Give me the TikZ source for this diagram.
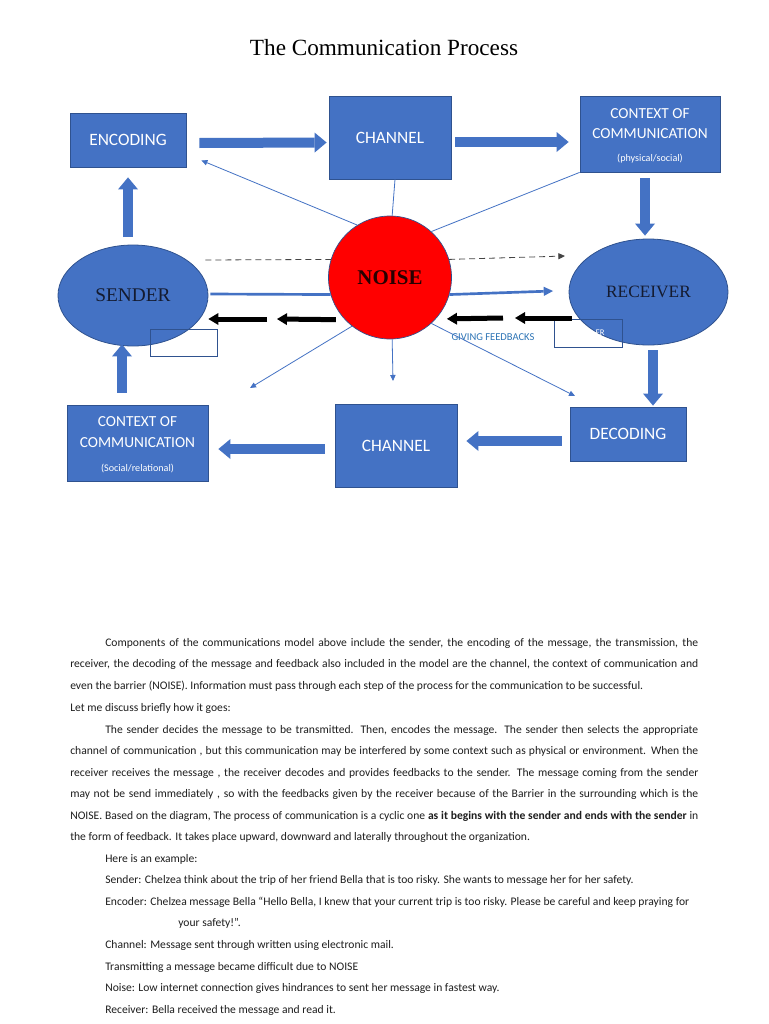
\documentclass[tikz,border=0pt]{standalone}
\usepackage{fontspec}
\setmainfont{Liberation Serif}
\newfontfamily\carl{Carlito}
\usetikzlibrary{arrows.meta,calc,shapes.geometric}
\definecolor{ofblue}{HTML}{4472C4}
\definecolor{ofedge}{HTML}{2F528F}
\definecolor{txt}{HTML}{1E1E1E}
\definecolor{fbblue}{HTML}{2E75B6}
\definecolor{navy}{HTML}{141B30}
\definecolor{dashc}{HTML}{444444}
\begin{document}
\begin{tikzpicture}[x=0.75pt,y=-0.75pt,
  box/.style={draw=ofedge,line width=0.6pt,fill=ofblue,text=white,inner sep=0pt,
    font=\carl\fontsize{13}{15}\selectfont,align=center},
  cxt/.style={text=white,inner sep=0pt,font=\carl\fontsize{11.5}{13}\selectfont},
  cxs/.style={text=white,inner sep=0pt,font=\carl\fontsize{7.6}{9}\selectfont},
  ell/.style={ellipse,draw=ofedge,line width=0.6pt,fill=ofblue,inner sep=0pt,text=navy},
  blk/.style={ofblue,line width=7.5pt,-{Triangle[length=9pt,width=15pt,line width=0pt]}},
  blkk/.style={black,line width=3.75pt,-{Triangle[length=7.5pt,width=9pt,line width=0pt]}},
  thinar/.style={ofblue,line width=0.6pt,-{Triangle[length=4.5pt,width=4pt]}},
  thinln/.style={ofblue,line width=0.6pt},
  dsh/.style={dashc,line width=0.6pt,dash pattern=on 4.5pt off 3pt},
  para/.style={anchor=base west,inner sep=0pt,text=txt,font=\carl\fontsize{8.7}{10}\selectfont},
  tbox/.style={draw=ofedge,line width=0.6pt,inner sep=0pt}
]
\fill[white] (0,0) rectangle (768,1024);
\useasboundingbox (0,0) rectangle (768,1024);

% title
\node[inner sep=0pt,font=\fontsize{17.4}{20}\selectfont] (title) at (384,48) {The Communication Process};

% boxes
\node[box,minimum width=87pt,minimum height=40.5pt] (enc) at (128,140) {ENCODING};
\node[box,minimum width=91.5pt,minimum height=62.25pt] (ch1) at (390,137.5) {CHANNEL};
\node[box,minimum width=105pt,minimum height=57pt] (cx1) at (650,134) {};
\node[box,minimum width=105.75pt,minimum height=57pt] (cx2) at (137.5,443) {};
\node[box,minimum width=91.5pt,minimum height=62.25pt] (ch2) at (396,445.5) {CHANNEL};
\node[box,minimum width=87pt,minimum height=40.5pt] (dec) at (628,434) {DECODING};

\node[cxt] (cx1a) at ($(cx1.center)+(0,-20)$) {CONTEXT OF};
\node[cxt] (cx1b) at ($(cx1.center)+(0,0)$) {COMMUNICATION};
\node[cxs] (cx1c) at ($(cx1.center)+(0,25)$) {(physical/social)};
\node[cxt] (cx2a) at ($(cx2.center)+(0,-21)$) {CONTEXT OF};
\node[cxt] (cx2b) at ($(cx2.center)+(0,0)$) {COMMUNICATION};
\node[cxs] (cx2c) at ($(cx2.center)+(0,25)$) {(Social/relational)};

% ellipses
\node[ell,minimum width=112.5pt,minimum height=75.75pt,font=\fontsize{14.5}{16}\selectfont] (send) at (133,295.5) {SENDER};
\node[ell,minimum width=119.25pt,minimum height=79.5pt,font=\fontsize{13}{15}\selectfont] (recv) at (648.5,292) {RECEIVER};

% small outlined text boxes
\node[tbox,minimum width=50.25pt,minimum height=20.25pt] (lbx) at (183.5,342.5) {};
\node[tbox,minimum width=51pt,minimum height=21pt] (rbx) at (588,333) {};
\node[inner sep=0pt,text=white,font=\carl\fontsize{6.5}{8}\selectfont] (rbxt) at (600,333) {ER};

% noise
\node[circle,fill=red,draw=ofedge,line width=0.5pt,minimum size=92.25pt,inner sep=0pt,
  font=\bfseries\fontsize{15.7}{18}\selectfont,text=black!85!red] (noise) at (390,277.5) {NOISE};

% free-end coordinates
\coordinate (d1) at (250,388);
\coordinate (d2) at (393,381);
\coordinate (d3) at (575,396);
\coordinate (ra) at (553,291);
\coordinate (dr) at (565,256);
\coordinate (b1) at (277,319);
\coordinate (b2) at (267,319);
\coordinate (b3) at (515,318);
\coordinate (b4) at (503,318);

% block arrows
\draw[blk] ($(enc.east)+(13,3)$) -- ($(ch1.west)+(-2,5)$);
\draw[blk] ($(ch1.east)+(4,4.5)$) -- ($(cx1.west)+(-11,8)$);
\draw[blk] ($(cx1.south)+(-5,6)$) -- ($(recv.north)+(-3.5,-3)$);
\draw[blk] ($(recv.south)+(4.5,5)$) -- ($(dec.north)+(25,-1)$);
\draw[blk] ($(dec.west)+(-8,7)$) -- ($(ch2.east)+(9,-4.5)$);
\draw[blk] ($(ch2.west)+(-10,3.5)$) -- ($(cx2.east)+(10,6)$);
\draw[blk] ($(cx2.north)+(-15.5,-12)$) -- ($(send.south)+(-11,-2)$);
\draw[blk] ($(send.north)+(-5,-7.5)$) -- ($(enc.south)+(0,10)$);

% thin noise lines
\draw[thinar] (noise.122) -- ($(enc.south east)+(15,-7)$);
\draw[thinln] ($(ch1.south)+(5,0)$) -- (noise.88);
\draw[thinln] (noise.48) -- (cx1.south west);
\draw[thinar] (noise.232) -- (d1);
\draw[thinar] (noise.272) -- (d2);
\draw[thinar] (noise.312) -- (d3);

% blue message line
\draw[ofblue,line width=2pt] ($(send.east)+(2,-1.5)$) -- (noise.196);
\draw[ofblue,line width=2pt,-{Triangle[length=7pt,width=7pt,line width=0pt]}] (noise.344) -- (ra);

% dashed line
\draw[dsh] ($(send.east)+(-3,-35.5)$) -- (noise.163);
\draw[dsh,-{Triangle[length=5pt,width=4.5pt]}] (noise.17) -- (dr);

% black feedback arrows
\draw[blkk] ($(noise.223)+(-9,0)$) -- (b1);
\draw[blkk] (b2) -- ($(send.east)+(0,23.5)$);
\draw[blkk] ($(recv.west)+(3,26)$) -- (b3);
\draw[blkk] (b4) -- ($(noise.318)+(11,0)$);

\node[inner sep=0pt,text=fbblue,font=\carl\fontsize{7.9}{9}\selectfont] (gf) at (493,337) {GIVING FEEDBACKS};

% paragraph
\node[para] (p1) at (105,646) {\makebox[444.75pt][s]{Components of the communications model above include the sender, the encoding of the message, the transmission, the}};
\node[para] (p2) at (70,667) {\makebox[471pt][s]{receiver, the decoding of the message and feedback also included in the model are the channel, the context of communication and}};
\node[para] (p3) at (70,689) {even the barrier (NOISE). Information must pass through each step of the process for the communication to be successful.};
\node[para] (p4) at (70,711) {Let me discuss briefly how it goes:};
\node[para] (p5) at (105,733) {\makebox[444.75pt][s]{The sender decides the message to be transmitted. Then, encodes the message. The sender then selects the appropriate}};
\node[para] (p6) at (70,754) {\makebox[471pt][s]{channel of communication , but this communication may be interfered by some context such as physical or environment. When the}};
\node[para] (p7) at (70,776) {\makebox[471pt][s]{receiver receives the message , the receiver decodes and provides feedbacks to the sender. The message coming from the sender}};
\node[para] (p8) at (70,797) {\makebox[471pt][s]{may not be send immediately , so with the feedbacks given by the receiver because of the Barrier in the surrounding which is the}};
\node[para] (p9) at (70,819) {\makebox[471pt][s]{NOISE. Based on the diagram, The process of communication is a cyclic one \textbf{as it begins with the sender and ends with the sender} in}};
\node[para] (p10) at (70,840) {the form of feedback. It takes place upward, downward and laterally throughout the organization.};
\node[para] (p11) at (105,862) {Here is an example:};
\node[para] (p12) at (105,883) {Sender: Chelzea think about the trip of her friend Bella that is too risky. She wants to message her for her safety.};
\node[para] (p13) at (105,905) {Encoder: Chelzea message Bella “Hello Bella, I knew that your current trip is too risky. Please be careful and keep praying for};
\node[para] (p14) at (178,926) {your safety!”.};
\node[para] (p15) at (105,948) {Channel: Message sent through written using electronic mail.};
\node[para] (p16) at (105,970) {Transmitting a message became difficult due to NOISE};
\node[para] (p17) at (105,991) {Noise: Low internet connection gives hindrances to sent her message in fastest way.};
\node[para] (p18) at (105,1013) {Receiver: Bella received the message and read it.};
\end{tikzpicture}
\end{document}
